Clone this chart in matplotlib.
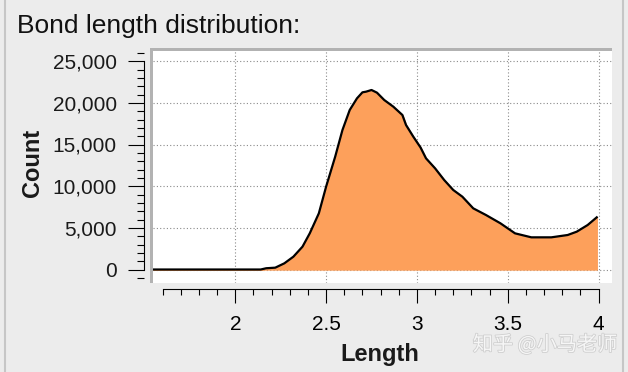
import numpy as np
import matplotlib.pyplot as plt
from matplotlib.lines import Line2D
from matplotlib.ticker import MultipleLocator, FuncFormatter
import matplotlib.patheffects as pe

# data
length = [1.55, 2.14, 2.17, 2.22, 2.27, 2.32, 2.37, 2.41, 2.46, 2.50, 2.55, 2.59,
          2.63, 2.67, 2.70, 2.72, 2.75, 2.78, 2.82, 2.87, 2.92, 2.94, 2.98, 3.02,
          3.05, 3.10, 3.15, 3.20, 3.25, 3.31, 3.38, 3.46, 3.54, 3.63, 3.74, 3.83,
          3.88, 3.94, 3.99]
count = [0, 0, 150, 220, 740, 1540, 2740, 4340, 6740, 9940, 13540, 16740,
         19140, 20540, 21260, 21340, 21540, 21220, 20340, 19540, 18540, 17340, 15940, 14640,
         13340, 12140, 10740, 9540, 8740, 7340, 6540, 5540, 4340, 3860, 3860, 4140,
         4540, 5340, 6260]

W, H = 628, 372
bg = '#ececec'
font = 'Liberation Sans'
plt.rcParams['font.family'] = [font, 'DejaVu Sans']

def box(l, t, r, b):
    return [l / W, 1 - b / H, (r - l) / W, (b - t) / H]

fig = plt.figure(figsize=(W / 100, H / 100), dpi=100, facecolor=bg)

xlim = (1.547, 4.074)
ylim = (-1620, 26220)

# shadow behind plot area
sh = fig.add_axes(box(150, 48, 612, 283))
sh.set_facecolor('#b2b2b2')
sh.set_xticks([]); sh.set_yticks([])
for s in sh.spines.values():
    s.set_visible(False)

# main plot area
ax = fig.add_axes(box(153, 51, 612, 283))
ax.set_facecolor('white')
ax.set_xlim(xlim)
ax.set_ylim(ylim)
ax.set_xticks([2, 2.5, 3, 3.5, 4])
ax.set_yticks(range(0, 25001, 5000))
ax.grid(True, color='#8a8a8a', linestyle=(0, (1, 2)), linewidth=0.8)
ax.set_axisbelow(True)
ax.tick_params(length=0, labelbottom=False, labelleft=False)
for s in ax.spines.values():
    s.set_visible(False)
ax.fill_between(length, count, color='#fda05b', zorder=2)
ax.plot(length, count, color='black', linewidth=1.6, zorder=3)

# y axis drawn outside the box
ay = fig.add_axes(box(144, 51, 144, 283))
ay.set_ylim(ylim)
ay.patch.set_visible(False)
for k in ['top', 'right', 'bottom']:
    ay.spines[k].set_visible(False)
ay.spines['left'].set_bounds(0, 25000)
ay.spines['left'].set_linewidth(0.8)
ay.set_xticks([])
ay.yaxis.set_major_locator(MultipleLocator(5000))
ay.yaxis.set_minor_locator(MultipleLocator(1000))
ay.yaxis.set_major_formatter(FuncFormatter(lambda v, p: f'{int(v):,}'))
ay.tick_params(axis='y', which='major', length=11.5, width=0.8, pad=8, labelsize=15, colors='black')
ay.tick_params(axis='y', which='minor', length=5, width=0.8)
for t in ay.get_yticklabels():
    t.set_color('#1a1a1a')

# x axis drawn below the box
axx = fig.add_axes(box(153, 289, 612, 289))
axx.set_xlim(xlim)
axx.patch.set_visible(False)
for k in ['top', 'right', 'left']:
    axx.spines[k].set_visible(False)
axx.spines['bottom'].set_bounds(1.6, 4.0)
axx.spines['bottom'].set_linewidth(0.8)
axx.set_yticks([])
axx.set_xticks([2, 2.5, 3, 3.5, 4])
axx.set_xticklabels(['2', '2.5', '3', '3.5', '4'])
axx.set_xticks(np.arange(1.6, 4.01, 0.1), minor=True)
axx.tick_params(axis='x', which='major', length=10, width=0.8, pad=9, labelsize=15)
axx.tick_params(axis='x', which='minor', length=4.5, width=0.8)

# labels and title
fig.text(17 / W, 1 - 33 / H, 'Bond length distribution:', fontsize=19,
         va='baseline', ha='left', color='#111111')
fig.text(380 / W, 1 - 355 / H, 'Length', fontsize=17, fontweight='bold',
         ha='center', va='center', color='#1a1a1a')
fig.text(32 / W, 1 - 163 / H, 'Count', fontsize=17, fontweight='bold',
         rotation=90, ha='center', va='center', color='#1a1a1a')

# window frame lines
fig.add_artist(Line2D([5 / W, 5 / W], [0, 1], color='#c6c6c6', linewidth=1.5))
fig.add_artist(Line2D([623 / W, 623 / W], [0, 1], color='#c6c6c6', linewidth=1.5))

# watermark
fig.text(545 / W, 1 - 345 / H, '知乎 @小马老师', fontsize=14.5,
         family=['Noto Sans CJK SC', 'DejaVu Sans'], ha='center', va='center',
         color='#f6f6f6', path_effects=[pe.withStroke(linewidth=1.2, foreground='#cfcfcf')])

fig.savefig('out.png', dpi=100, facecolor=bg)
